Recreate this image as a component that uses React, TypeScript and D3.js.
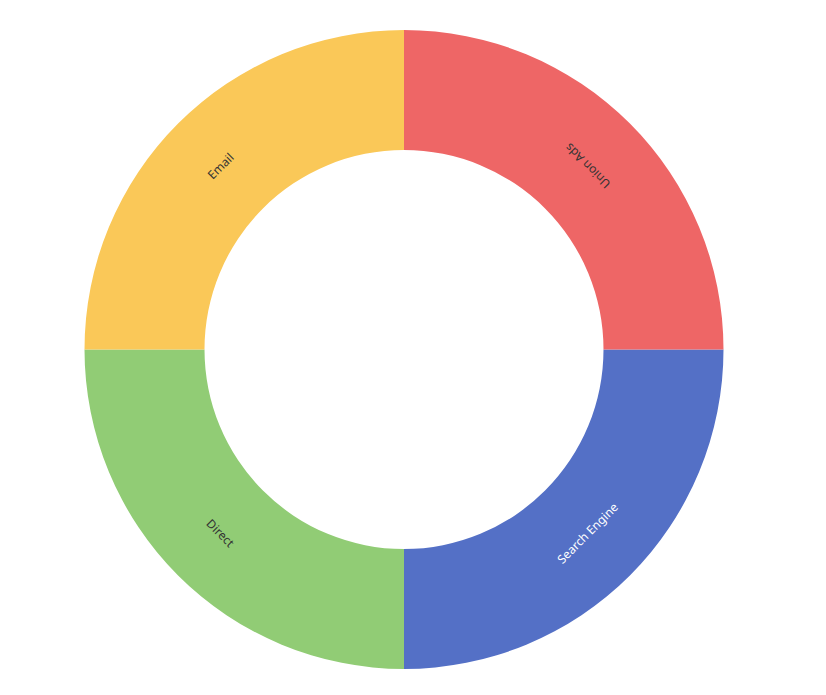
import { useEffect, useRef } from "react";
import * as d3 from "d3";

const categories = ["Search Engine", "Direct", "Email", "Union Ads"];
const values = [1, 1, 1, 1];
const colors = ["#5470c6", "#91cc75", "#fac858", "#ee6666"];
const labelColors = ["#ffffff", "#333333", "#333333", "#333333"];

export default function App() {
  const svgRef = useRef<SVGSVGElement>(null);

  useEffect(() => {
    if (!svgRef.current) return;
    const svg = d3.select(svgRef.current);
    svg.selectAll("*").remove();

    const cx = 404, cy = 349.5;
    const outer = 319.5, inner = 199.5;

    const data = categories.map((name, i) => ({ name, value: values[i], i }));

    // start at 3 o'clock, run clockwise
    const pie = d3.pie<{ name: string; value: number; i: number }>()
      .value(d => d.value).sort(null)
      .startAngle(Math.PI / 2).endAngle(Math.PI / 2 + 2 * Math.PI);

    const arc = d3.arc<d3.PieArcDatum<{ name: string; value: number; i: number }>>()
      .innerRadius(inner).outerRadius(outer);

    const g = svg.append("g").attr("transform", `translate(${cx},${cy})`);
    const arcs = pie(data);

    g.selectAll("path").data(arcs).enter().append("path")
      .attr("d", arc)
      .attr("fill", d => colors[d.data.i]);

    const rMid = (inner + outer) / 2;
    arcs.forEach(d => {
      const mid = (d.startAngle + d.endAngle) / 2; // d3: 0 = 12 o'clock, clockwise
      const x = rMid * Math.sin(mid);
      const y = -rMid * Math.cos(mid);
      // screen angle from 3 o'clock, clockwise
      let a = ((mid * 180) / Math.PI - 90) % 360;
      if (a < 0) a += 360;
      let rot = a - 90;
      if (rot > 90 && rot < 180) rot -= 180;
      g.append("text")
        .attr("transform", `translate(${x},${y}) rotate(${rot})`)
        .attr("text-anchor", "middle").attr("dominant-baseline", "central")
        .attr("font-family", "'Noto Sans', 'DejaVu Sans', sans-serif")
        .attr("font-size", 12)
        .attr("fill", labelColors[d.data.i])
        .text(d.data.name);
    });
  }, []);

  return (
    <svg ref={svgRef} width={826} height={695}
      style={{ position: "absolute", left: 0, top: 0, background: "#fff" }} />
  );
}
